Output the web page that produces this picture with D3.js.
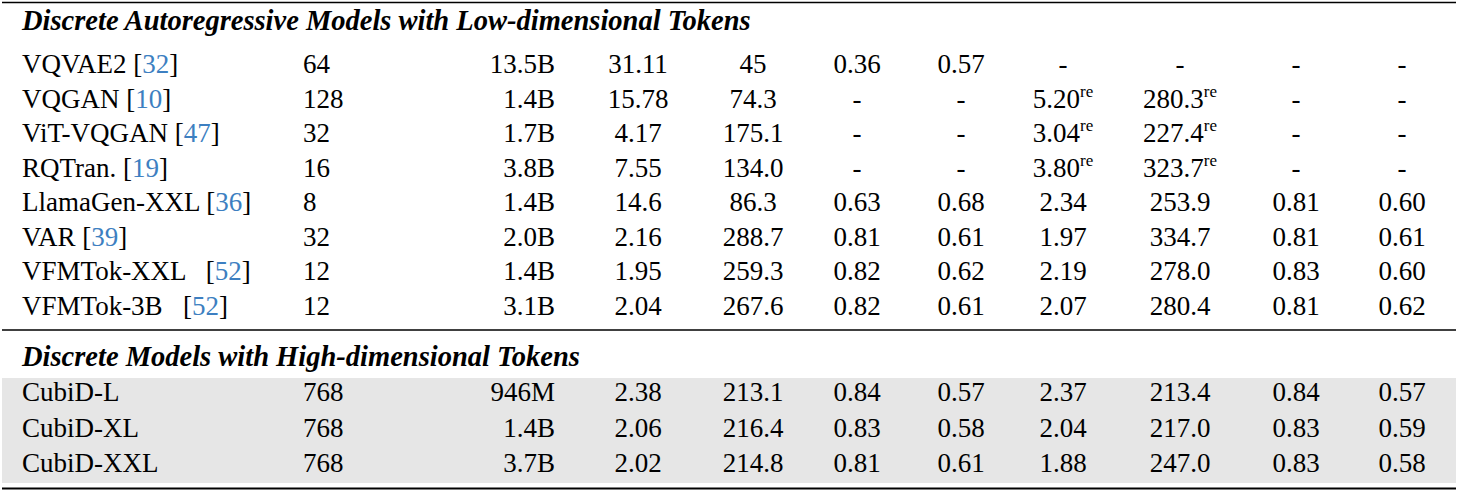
<!DOCTYPE html>
<html><head><meta charset="utf-8">
<script src="https://cdn.jsdelivr.net/npm/d3@7"></script>
<style>body{margin:0;background:#fff}svg text{font-family:"Liberation Serif","Times New Roman",serif;white-space:pre}</style>
</head><body><svg id="c" width="1460" height="491"></svg>
<script>
const section1 = "Discrete Autoregressive Models with Low-dimensional Tokens";
const section2 = "Discrete Models with High-dimensional Tokens";
const names1 = ["VQVAE2","VQGAN","ViT-VQGAN","RQTran.","LlamaGen-XXL","VAR","VFMTok-XXL  ","VFMTok-3B  "];
const refs1 = ["32","10","47","19","36","39","52","52"];
const rows1 = [
 ["64","13.5B","31.11","45","0.36","0.57","-","-","-","-"],
 ["128","1.4B","15.78","74.3","-","-","5.20^re","280.3^re","-","-"],
 ["32","1.7B","4.17","175.1","-","-","3.04^re","227.4^re","-","-"],
 ["16","3.8B","7.55","134.0","-","-","3.80^re","323.7^re","-","-"],
 ["8","1.4B","14.6","86.3","0.63","0.68","2.34","253.9","0.81","0.60"],
 ["32","2.0B","2.16","288.7","0.81","0.61","1.97","334.7","0.81","0.61"],
 ["12","1.4B","1.95","259.3","0.82","0.62","2.19","278.0","0.83","0.60"],
 ["12","3.1B","2.04","267.6","0.82","0.61","2.07","280.4","0.81","0.62"]];
const names2 = ["CubiD-L","CubiD-XL","CubiD-XXL"];
const rows2 = [
 ["768","946M","2.38","213.1","0.84","0.57","2.37","213.4","0.84","0.57"],
 ["768","1.4B","2.06","216.4","0.83","0.58","2.04","217.0","0.83","0.59"],
 ["768","3.7B","2.02","214.8","0.81","0.61","1.88","247.0","0.83","0.58"]];

const svg = d3.select("#c");
const FS = 27;
const colX = [303,555,638,753,857,961,1063,1180,1296,1402];
const colAnchor = ["start","end","middle","middle","middle","middle","middle","middle","middle","middle"];
const y1 = d3.scalePoint().domain(d3.range(rows1.length)).range([64,306]);
const y2 = d3.scalePoint().domain(d3.range(rows2.length)).range([392,463]);

function line(y,w){svg.append("line").attr("x1",2).attr("x2",1456).attr("y1",y).attr("y2",y).attr("stroke","#000").attr("stroke-width",w);}
svg.append("rect").attr("x",2).attr("y",378).attr("width",1454).attr("height",105).attr("fill","#e6e6e6");
line(2.5,1.3); line(330,1.3); line(488.5,2.2);

function header(t,y){svg.append("text").attr("x",22).attr("y",y).attr("font-size",28.5).attr("font-weight","bold").attr("font-style","italic").text(t);}
header(section1,30); header(section2,366);

function cell(txt,x,y,anchor){
  const t = svg.append("text").attr("x",x).attr("y",y+9).attr("font-size",FS).attr("text-anchor",anchor).attr("fill","#000");
  const [b,s] = txt.split("^");
  t.append("tspan").text(b);
  if(s) t.append("tspan").attr("font-size",17).attr("dy",-11).text(s);
}
rows1.forEach((r,i)=>{
  const y=y1(i);
  const t=svg.append("text").attr("x",22).attr("y",y+9).attr("font-size",FS);
  t.append("tspan").text(names1[i]+" [");
  t.append("tspan").attr("fill","#3d7fc1").text(refs1[i]);
  t.append("tspan").text("]");
  r.forEach((v,j)=>cell(v,colX[j],y,colAnchor[j]));
});
rows2.forEach((r,i)=>{
  const y=y2(i);
  svg.append("text").attr("x",22).attr("y",y+9).attr("font-size",FS).text(names2[i]);
  r.forEach((v,j)=>cell(v,colX[j],y,colAnchor[j]));
});
</script></body></html>
